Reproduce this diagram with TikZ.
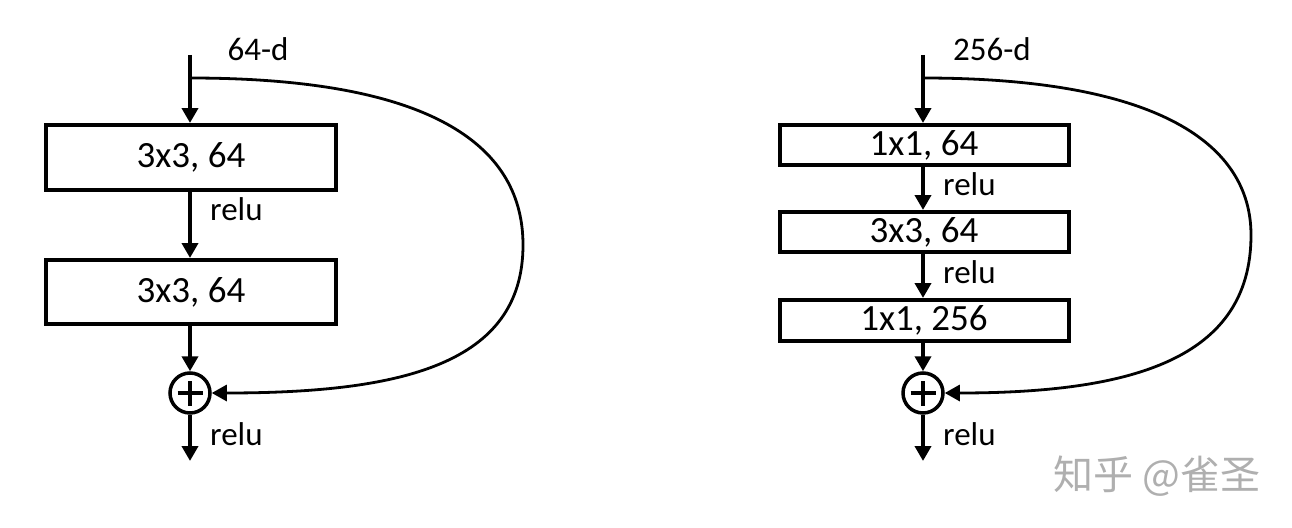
\documentclass[tikz,border=0pt]{standalone}
\usepackage{fontspec}
\setmainfont{Carlito}
\newfontfamily\cjk{Noto Sans CJK SC}
\usetikzlibrary{arrows.meta}
\definecolor{wm}{RGB}{175,175,175}
\tikzset{
  layer/.style={draw, line width=4pt, inner sep=0pt, font=\fontsize{37}{42}\selectfont},
  flow/.style={line width=4.5pt, -{Triangle[length=15pt,width=16pt]}},
  skip/.style={line width=2.8pt, -{Triangle[length=15pt,width=16pt]}},
  lbl/.style={font=\fontsize{33}{38}\selectfont, inner sep=0pt},
  addop/.style={circle, draw, line width=3.5pt, minimum size=40pt, inner sep=0pt,
    path picture={\draw[line width=4pt] ([xshift=-12.5pt]path picture bounding box.center) -- ([xshift=12.5pt]path picture bounding box.center);
                  \draw[line width=4pt] ([yshift=-12.5pt]path picture bounding box.center) -- ([yshift=12.5pt]path picture bounding box.center);}}
}
\begin{document}
\begin{tikzpicture}[x=1pt,y=-1pt]
\useasboundingbox (0,0) rectangle (1292,527);
% ---------- left block ----------
\coordinate (Ltop) at (190,55);
\coordinate (Lsplit) at (190,78);
\node[layer, minimum width=290pt, minimum height=65pt] (L1) at (191,157.5) {3x3, 64};
\node[layer, minimum width=290pt, minimum height=64pt] (L2) at (191,292) {3x3, 64};
\node[addop] (Ladd) at (190,393) {};
\coordinate (Lout) at (190,461);
\node[lbl] (Ld) at (258,49) {64-d};
\node[lbl, anchor=west] (Lr1) at (210,209) {relu};
\node[lbl, anchor=west] (Lr2) at (210,434) {relu};
\draw[flow] (Ltop) -- (L1.north -| Ltop);
\draw[flow] (L1.south -| Ltop) -- (L2.north -| Ltop);
\draw[flow] (L2.south -| Ltop) -- (Ladd.north);
\draw[flow] (Ladd.south) -- (Lout);
\draw[skip] (Lsplit) .. controls (440,78) and (523,150) .. (523,245)
  .. controls (523,365) and (400,393) .. (Ladd.east);
% ---------- right block ----------
\coordinate (Rtop) at (923,55);
\coordinate (Rsplit) at (923,78);
\node[layer, minimum width=289pt, minimum height=40pt] (R1) at (924,145) {1x1, 64};
\node[layer, minimum width=289pt, minimum height=40pt] (R2) at (924,232) {3x3, 64};
\node[layer, minimum width=289pt, minimum height=41pt] (R3) at (924,320.5) {1x1, 256};
\node[addop] (Radd) at (923,393) {};
\coordinate (Rout) at (923,461);
\node[lbl] (Rd) at (992,49) {256-d};
\node[lbl, anchor=west] (Rr1) at (943,184) {relu};
\node[lbl, anchor=west] (Rr2) at (943,272) {relu};
\node[lbl, anchor=west] (Rr3) at (943,434) {relu};
\draw[flow] (Rtop) -- (R1.north -| Rtop);
\draw[flow] (R1.south -| Rtop) -- (R2.north -| Rtop);
\draw[flow] (R2.south -| Rtop) -- (R3.north -| Rtop);
\draw[flow] (R3.south -| Rtop) -- (Radd.north);
\draw[flow] (Radd.south) -- (Rout);
\draw[skip] (Rsplit) .. controls (1160,78) and (1251,145) .. (1251,235)
  .. controls (1251,360) and (1130,393) .. (Radd.east);
% ---------- watermark ----------
\node[text=wm, font=\cjk\fontsize{40}{44}\selectfont, inner sep=0pt] (wm) at (1157,476) {知乎 @雀圣};
\end{tikzpicture}
\end{document}
